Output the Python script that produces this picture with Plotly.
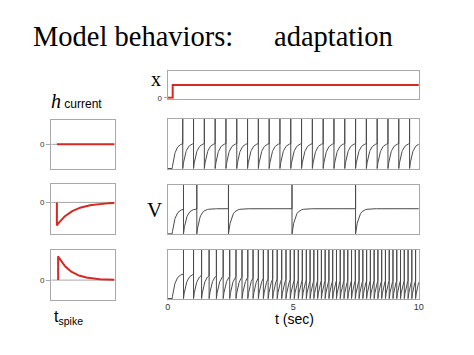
import numpy as np
import plotly.graph_objects as go

W, H = 474, 355

# ---- data ----
stim_onset = 0.2            # s, step of input x
stim_level = 1.0
rise_start = 0.18           # start of first depolarization
tau_v = 0.12                # s, membrane rise constant
spikes_regular = [0.60, 1.03, 1.46, 1.89, 2.32, 2.75, 3.18, 3.61, 4.04, 4.47, 4.90,
                  5.33, 5.76, 6.19, 6.62, 7.05, 7.48, 7.91, 8.34, 8.77, 9.20, 9.63]
spikes_adapt = [0.63, 1.16, 2.42, 4.95, 7.48]
spikes_facil = [0.63, 1.03, 1.35, 1.65, 1.94, 2.21, 2.47, 2.72, 2.96, 3.19, 3.40, 3.61,
                3.81, 4.00, 4.18, 4.36, 4.54, 4.71, 4.88, 5.04, 5.20, 5.36, 5.52, 5.67,
                5.82, 5.97, 6.12, 6.27, 6.42, 6.57, 6.72, 6.87, 7.02, 7.17, 7.32, 7.47,
                7.62, 7.77, 7.92, 8.07, 8.22, 8.37, 8.52, 8.67, 8.82, 8.97, 9.12, 9.27,
                9.42, 9.57, 9.72, 9.87]
h_amp = [0.0, -1.0, 1.0]     # h-current kernel amplitude per row
h_tau = [0.25, 0.25, 0.2]    # kernel decay (fraction of panel width)
h_tspike = [0.09, 0.09, 0.11]
x_ticks = [0, 5, 10]
t_max = 10.0
spike_top = 1.95


def px(x):
    return x / W


def py(y):
    return 1 - y / H


fig = go.Figure()

GRAY = "#a8a8a8"
TRACE = "#4a4a4a"
RED = "#d42a22"


def add_axes(idx, xdom, ydom, xr, yr):
    xa = "xaxis" if idx == 1 else f"xaxis{idx}"
    ya = "yaxis" if idx == 1 else f"yaxis{idx}"
    common = dict(showline=True, mirror=True, linecolor=GRAY, linewidth=1,
                  showgrid=False, zeroline=False, fixedrange=True)
    fig.update_layout({
        xa: dict(domain=xdom, range=xr, anchor=f"y{idx}" if idx > 1 else "y",
                 showticklabels=False, ticks="", **common),
        ya: dict(domain=ydom, range=yr, anchor=f"x{idx}" if idx > 1 else "x",
                 showticklabels=False, ticks="", **common),
    })


def ref(idx):
    return ("x", "y") if idx == 1 else (f"x{idx}", f"y{idx}")


# right panels
RX = [px(167.5), px(423)]
# x input panel
add_axes(1, RX, [py(100), py(72)], [0, t_max], [-0.078, 2.077])
fig.update_layout(yaxis=dict(tickvals=[0], ticktext=["0"], showticklabels=True,
                             ticks="outside", ticklen=3, tickcolor=GRAY,
                             tickfont=dict(size=8, family="Arial", color="#333")))
xr, yr = ref(1)
fig.add_trace(go.Scatter(x=[0, stim_onset, stim_onset, t_max], y=[0, 0, stim_level, stim_level],
                         mode="lines", line=dict(color=RED, width=2),
                         xaxis=xr, yaxis=yr, hoverinfo="skip"))

rows_y = [(171, 120), (237, 187), (302.5, 252.5)]
spike_sets = [spikes_regular, spikes_adapt, spikes_facil]
for k, (sp, (yb, yt)) in enumerate(zip(spike_sets, rows_y)):
    idx = 2 + k
    add_axes(idx, RX, [py(yb), py(yt)], [0, t_max], [-0.02, spike_top])
    ts, vs = [0, rise_start], [0, 0]
    t0 = rise_start
    ends = list(sp) + [t_max]
    for t1 in ends:
        tt = np.linspace(t0, t1, 40)
        vv = 1 - np.exp(-(tt - t0) / tau_v)
        ts += list(tt)
        vs += list(vv)
        if t1 < t_max:
            ts += [t1, t1]
            vs += [spike_top, 0]
        t0 = t1
    xr, yr = ref(idx)
    fig.add_trace(go.Scatter(x=ts, y=vs, mode="lines", line=dict(color=TRACE, width=1),
                             xaxis=xr, yaxis=yr, hoverinfo="skip"))

# bottom tick labels
fig.update_layout(xaxis4=dict(showticklabels=True, tickvals=x_ticks,
                              ticktext=[str(v) for v in x_ticks], ticklabelstandoff=-1,
                              tickfont=dict(size=9, family="Arial", color="#333")))

# left h-current panels
LX = [px(49), px(113.5)]
left_geo = [((171, 121), (-1, 1)), ((237, 186), (-1.385, 0.803)), ((303.3, 252.7), (-0.825, 1.263))]
for k, ((yb, yt), yrng) in enumerate(left_geo):
    idx = 5 + k
    add_axes(idx, LX, [py(yb), py(yt)], [0, 1], list(yrng))
    fig.update_layout({f"yaxis{idx}": dict(tickvals=[0], ticktext=["0"], showticklabels=True,
                                            ticks="outside", ticklen=4, tickcolor=GRAY,
                                            tickfont=dict(size=8, family="Arial", color="#333"))})
    xr, yr = ref(idx)
    fig.add_trace(go.Scatter(x=[0, 1], y=[0, 0], mode="lines", line=dict(color=GRAY, width=1),
                             xaxis=xr, yaxis=yr, hoverinfo="skip"))
    tsp = h_tspike[k]
    tt = np.linspace(tsp, 1, 80)
    hh = h_amp[k] * np.exp(-(tt - tsp) / h_tau[k])
    fig.add_trace(go.Scatter(x=[tsp] + list(tt), y=[0] + list(hh), mode="lines",
                             line=dict(color=RED, width=2),
                             xaxis=xr, yaxis=yr, hoverinfo="skip"))

SERIF = "Liberation Serif"
SANS = "Liberation Sans"
ann = [
    dict(x=px(28), y=py(37), text="Model behaviors:", xanchor="left", size=28.5, fam=SERIF),
    dict(x=px(274), y=py(37), text="adaptation", xanchor="left", size=28.5, fam=SERIF),
    dict(x=px(156), y=py(80), text="x", xanchor="center", size=20, fam=SERIF),
    dict(x=px(154), y=py(212), text="V", xanchor="center", size=21, fam=SERIF),
    dict(x=px(297), y=py(323), text="t (sec)", xanchor="center", size=14, fam=SANS),
]
for a in ann:
    fig.add_annotation(x=a["x"], y=a["y"], xref="paper", yref="paper", text=a["text"],
                       xanchor=a["xanchor"], yanchor="middle", showarrow=False,
                       font=dict(size=a["size"], family=a["fam"], color="black"))
fig.add_annotation(x=px(47), y=py(102), xref="paper", yref="paper", xanchor="left", yanchor="middle",
                   showarrow=False,
                   text="<i><span style='font-family:Liberation Serif;font-size:20px'>h</span></i>"
                        "<span style='font-size:12px'> current</span>",
                   font=dict(size=12, family=SANS, color="black"))
fig.add_annotation(x=px(50), y=py(321), xref="paper", yref="paper", xanchor="left", yanchor="middle",
                   showarrow=False,
                   text="t<sub><span style='font-size:10.5px'>spike</span></sub>",
                   font=dict(size=16, family=SANS, color="black"))

fig.update_layout(width=W, height=H, margin=dict(l=0, r=0, t=0, b=0),
                  paper_bgcolor="white", plot_bgcolor="white", showlegend=False)
fig.write_html("out.html", config={"displayModeBar": False},
               post_script="document.body.style.margin='0';")
